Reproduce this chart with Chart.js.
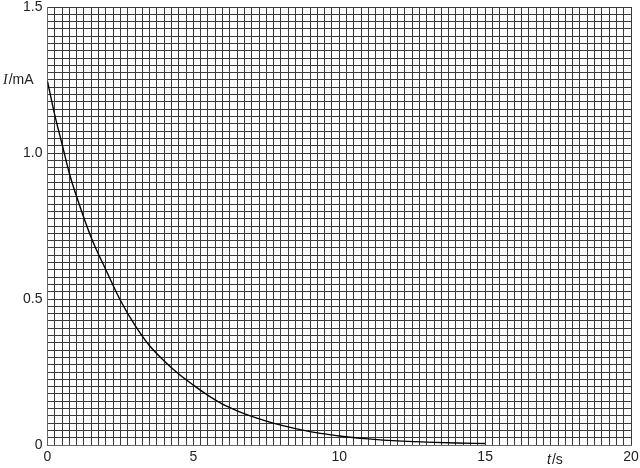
<!DOCTYPE html>
<html>
<head>
<meta charset="utf-8">
<script src="https://cdn.jsdelivr.net/npm/chart.js@4.4.1/dist/chart.umd.min.js"></script>
<style>
  html, body { margin: 0; padding: 0; background: #fff; }
  #wrap { width: 640px; height: 468px; position: relative; }
</style>
</head>
<body>
<div id="wrap"><canvas id="myChart"></canvas></div>
<script>
// time in s, current in mA
const times = [0, 0.25, 0.5, 0.75, 1, 1.5, 2, 2.5, 3, 3.5, 4, 4.5, 5, 5.5, 6, 6.5, 7, 7.5, 8, 8.5, 9, 9.5, 10, 11, 12, 13, 14, 15];
const currents = [1.245, 1.13, 1.03, 0.93, 0.85, 0.71, 0.60, 0.495, 0.41, 0.34, 0.288, 0.243, 0.205, 0.17, 0.14, 0.117, 0.098, 0.082, 0.068, 0.056, 0.046, 0.038, 0.031, 0.021, 0.014, 0.010, 0.007, 0.005];
const xLabels = [0, 5, 10, 15, 20];
const yLabels = [0, 0.5, 1.0, 1.5];

const fontFamily = '"Liberation Sans", Arial, sans-serif';

function loadChart() {
    const ctx = document.getElementById('myChart');

    const points = times.map((t, i) => ({ x: t, y: currents[i] }));

    // axis names drawn by hand, they are not centred on the axes
    const axisNames = {
        id: 'axisNames',
        afterDraw(chart) {
            const c = chart.ctx;
            const xs = chart.scales.x;
            const ys = chart.scales.y;
            c.save();
            c.fillStyle = '#222';
            c.textBaseline = 'middle';
            c.textAlign = 'left';

            let yPos = ys.getPixelForValue(1.25);
            c.font = 'italic 14px "Liberation Serif", serif';
            c.fillText('I', 3, yPos);
            let w = c.measureText('I').width;
            c.font = '14px ' + fontFamily;
            c.fillText('/mA', 3 + w + 1, yPos);

            let xPos = xs.getPixelForValue(17.5) - 11;
            let yBottom = 460;
            c.font = 'italic 14px ' + fontFamily;
            c.fillText('t', xPos, yBottom);
            w = c.measureText('t').width;
            c.font = '14px ' + fontFamily;
            c.fillText('/s', xPos + w + 1, yBottom);
            c.restore();
        }
    };

    const myChart = new Chart(ctx, {
        type: 'scatter',
        data: {
            datasets: [{
                data: points,
                showLine: true,
                borderColor: '#000',
                borderWidth: 1.4,
                pointRadius: 0,
                cubicInterpolationMode: 'monotone',
                fill: false
            }]
        },
        options: {
            responsive: true,
            maintainAspectRatio: false,
            animation: false,
            layout: {
                padding: { top: 7, right: 9, left: 0, bottom: 0 }
            },
            plugins: {
                legend: { display: false },
                tooltip: { enabled: false }
            },
            scales: {
                x: {
                    type: 'linear',
                    min: 0,
                    max: 20,
                    afterFit: (scale) => {
                        scale.height = 23;
                        scale.paddingLeft = 0;
                        scale.paddingRight = 0;
                    },
                    grid: {
                        color: '#3a3a3a',
                        lineWidth: 1,
                        drawTicks: false
                    },
                    border: { color: '#666', width: 1 },
                    ticks: {
                        stepSize: 0.25,
                        autoSkip: false,
                        maxRotation: 0,
                        padding: 4,
                        color: '#222',
                        font: { family: fontFamily, size: 14 },
                        callback: (v) => {
                            const found = xLabels.find(l => Math.abs(l - v) < 1e-6);
                            return found === undefined ? '' : String(found);
                        }
                    }
                },
                y: {
                    min: 0,
                    max: 1.5,
                    afterFit: (scale) => {
                        scale.width = 47.5;
                        scale.paddingTop = 0;
                        scale.paddingBottom = 0;
                    },
                    grid: {
                        color: '#3a3a3a',
                        lineWidth: 1,
                        drawTicks: false
                    },
                    border: { color: '#666', width: 1 },
                    ticks: {
                        stepSize: 0.025,
                        autoSkip: false,
                        padding: 5,
                        color: '#222',
                        font: { family: fontFamily, size: 14 },
                        callback: (v) => {
                            const found = yLabels.find(l => Math.abs(l - v) < 1e-6);
                            if (found === undefined) return '';
                            return found === 0 ? '0' : found.toFixed(1);
                        }
                    }
                }
            }
        },
        plugins: [axisNames]
    });
}

loadChart();
</script>
</body>
</html>
